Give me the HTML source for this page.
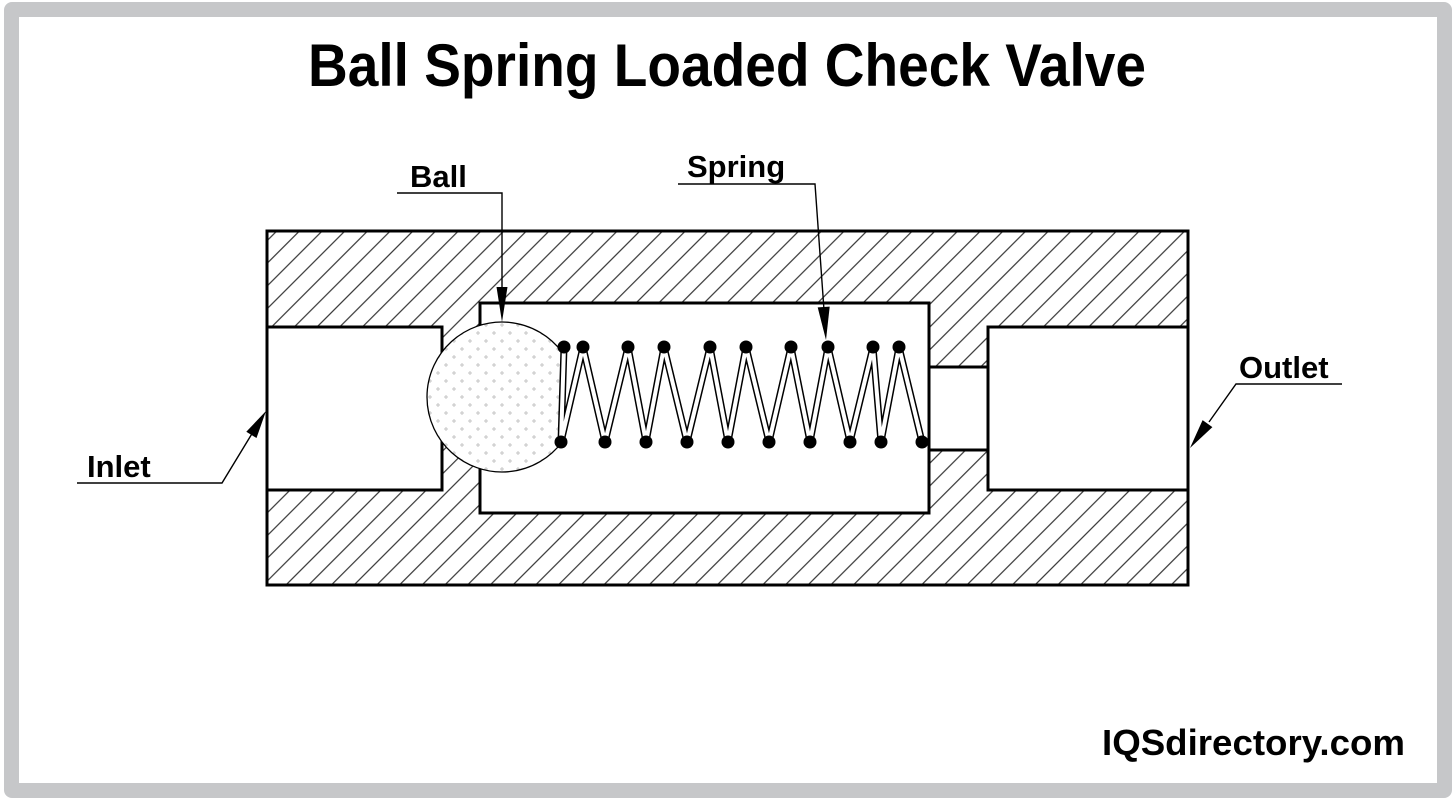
<!DOCTYPE html>
<html>
<head>
<meta charset="utf-8">
<style>
  html, body { margin: 0; padding: 0; background: #ffffff; }
  body { width: 1455px; height: 804px; overflow: hidden; }
  svg { display: block; }
  text { font-family: "Liberation Sans", Arial, sans-serif; font-weight: bold; fill: #000; }
</style>
</head>
<body>
<svg width="1455" height="804" viewBox="0 0 1455 804" xmlns="http://www.w3.org/2000/svg">
  <defs>
    <pattern id="hatch" patternUnits="userSpaceOnUse" width="16.05" height="16.05" patternTransform="translate(-2.9 0) rotate(45)">
      <line x1="8" y1="-1" x2="8" y2="17.05" stroke="#222" stroke-width="1.1"/>
    </pattern>
    <pattern id="dots" patternUnits="userSpaceOnUse" width="16" height="16" x="2" y="1">
      <g stroke="#c4c4c4" stroke-width="1">
        <line x1="2" y1="4" x2="6" y2="4"/><line x1="4" y1="2" x2="4" y2="6"/>
        <line x1="10" y1="12" x2="14" y2="12"/><line x1="12" y1="10" x2="12" y2="14"/>
      </g>
    </pattern>
  </defs>

  <!-- frame -->
  <rect x="4" y="2" width="1448" height="796" rx="8" ry="8" fill="#c6c7c9"/>
  <rect x="19" y="17" width="1418" height="766" fill="#ffffff"/>

  <!-- title -->
  <text x="308" y="86" font-size="60" textLength="838" lengthAdjust="spacingAndGlyphs">Ball Spring Loaded Check Valve</text>

  <!-- body with hatching -->
  <rect x="267" y="231" width="921" height="354" fill="#fff"/>
  <rect x="267" y="231" width="921" height="354" fill="url(#hatch)" stroke="#000" stroke-width="3"/>

  <!-- passage -->
  <rect x="929" y="367" width="59" height="83" fill="#fff"/>
  <line x1="929" y1="367" x2="988" y2="367" stroke="#000" stroke-width="3"/>
  <line x1="929" y1="450" x2="988" y2="450" stroke="#000" stroke-width="3"/>

  <!-- inlet cavity -->
  <rect x="267" y="327" width="175" height="163" fill="#fff" stroke="#000" stroke-width="3"/>
  <!-- chamber -->
  <rect x="480" y="303" width="449" height="210" fill="#fff" stroke="#000" stroke-width="3"/>
  <!-- outlet cavity -->
  <rect x="988" y="327" width="200" height="163" fill="#fff" stroke="#000" stroke-width="3"/>

  <!-- ball (cut at the spring) -->
  <path d="M562,352 A75,75 0 1,0 562,442 Z" fill="#fff"/>
  <path d="M562,352 A75,75 0 1,0 562,442 Z" fill="url(#dots)"/>
  <path d="M562,352 A75,75 0 1,0 562,442" fill="none" stroke="#000" stroke-width="1.3"/>

  <!-- spring -->
  <polyline points="564,347 561,442 583,347 605,442 628,347 646,442 664,347 687,442 710,347 728,442 746,347 769,442 791,347 810,442 828,347 850,442 873,347 881,442 899,347 922,442"
    fill="none" stroke="#000" stroke-width="7" stroke-linejoin="round"/>
  <polyline points="564,347 561,442 583,347 605,442 628,347 646,442 664,347 687,442 710,347 728,442 746,347 769,442 791,347 810,442 828,347 850,442 873,347 881,442 899,347 922,442"
    fill="none" stroke="#fff" stroke-width="4" stroke-linejoin="round"/>
  <g fill="#000">
    <circle cx="564" cy="347" r="6.5"/><circle cx="583" cy="347" r="6.5"/>
    <circle cx="628" cy="347" r="6.5"/><circle cx="664" cy="347" r="6.5"/>
    <circle cx="710" cy="347" r="6.5"/><circle cx="746" cy="347" r="6.5"/>
    <circle cx="791" cy="347" r="6.5"/><circle cx="828" cy="347" r="6.5"/>
    <circle cx="873" cy="347" r="6.5"/><circle cx="899" cy="347" r="6.5"/>
    <circle cx="561" cy="442" r="6.5"/><circle cx="605" cy="442" r="6.5"/>
    <circle cx="646" cy="442" r="6.5"/><circle cx="687" cy="442" r="6.5"/>
    <circle cx="728" cy="442" r="6.5"/><circle cx="769" cy="442" r="6.5"/>
    <circle cx="810" cy="442" r="6.5"/><circle cx="850" cy="442" r="6.5"/>
    <circle cx="881" cy="442" r="6.5"/><circle cx="922" cy="442" r="6.5"/>
  </g>

  <!-- leaders -->
  <g fill="none" stroke="#000" stroke-width="1.4">
    <polyline points="397,193 502,193 502,290"/>
    <polyline points="678,184 815,184 824,310"/>
    <polyline points="77,483 222,483 253,432"/>
    <polyline points="1342,384 1236,384 1209,422"/>
  </g>
  <g fill="#000">
    <polygon points="496.5,287 507.5,287 502,322"/>
    <polygon points="817.7,307.4 829.7,306.6 826,340"/>
    <polygon points="256.5,438 246.3,431.8 266,411"/>
    <polygon points="1212.4,427.1 1202.6,420.1 1190,448"/>
  </g>

  <!-- labels -->
  <text x="410" y="187" font-size="31">Ball</text>
  <text x="687" y="177" font-size="31">Spring</text>
  <text x="87" y="477" font-size="31">Inlet</text>
  <text x="1239" y="378" font-size="31">Outlet</text>

  <!-- logo -->
  <text x="1102" y="755" font-size="36" textLength="303" lengthAdjust="spacingAndGlyphs">IQSdirectory.com</text>
</svg>
</body>
</html>
